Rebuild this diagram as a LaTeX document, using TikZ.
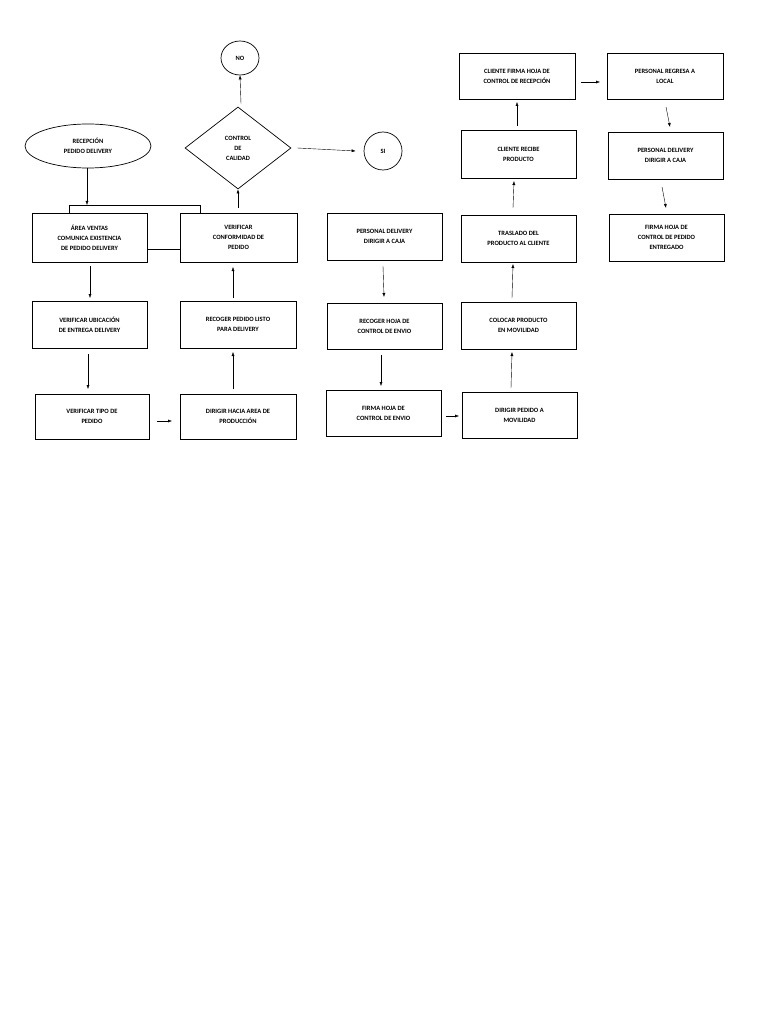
\documentclass[tikz,border=0pt]{standalone}
\usepackage{fontspec}
\setmainfont{Carlito}
\usetikzlibrary{shapes.geometric,arrows.meta}
\begin{document}
\begin{tikzpicture}[x=1pt,y=-1pt,
  every node/.style={font=\bfseries\fontsize{6.5}{10}\selectfont,align=center},
  box/.style={draw,line width=0.7pt,rectangle,inner sep=0pt},
  arr/.style={-{Latex[length=4pt,width=3pt]},line width=0.4pt},
  ln/.style={line width=0.7pt}]
\useasboundingbox (0,0) rectangle (768,1024);
\newcommand{\bx}[6]{\node[box,minimum width={#4-#2},minimum height={#5-#3}] (#1) at ({(#2+#4)/2},{(#3+#5)/2}) {#6};}
\node[draw,ellipse,ln,minimum width=126,minimum height=44,inner sep=0] (rec) at (88,146) {RECEPCIÓN\\PEDIDO DELIVERY};
\bx{area}{32}{213}{147}{262}{ÁREA VENTAS\\COMUNICA EXISTENCIA\\DE PEDIDO DELIVERY}
\bx{conf}{180}{213}{297}{262}{VERIFICAR\\CONFORMIDAD DE\\PEDIDO}
\node[draw,diamond,ln,minimum width=106,minimum height=82,inner sep=0,aspect=1.3] (cc) at (238,148) {CONTROL\\DE\\CALIDAD};
\node[draw,ellipse,ln,minimum width=38,minimum height=34,inner sep=0] (no) at (240,58) {NO};
\node[draw,ellipse,ln,minimum width=38,minimum height=38,inner sep=0] (si) at (383,151) {SI};
\bx{ubi}{32}{301}{147}{348}{VERIFICAR UBICACIÓN\\DE ENTREGA DELIVERY}
\bx{rec2}{180}{301}{296}{348}{RECOGER PEDIDO LISTO\\PARA DELIVERY}
\bx{tipo}{35}{394}{149}{439}{VERIFICAR TIPO DE\\PEDIDO}
\bx{dir}{180}{394}{296}{439}{DIRIGIR HACIA AREA DE\\PRODUCCIÓN}
\bx{pd1}{327}{213}{442}{260}{PERSONAL DELIVERY\\DIRIGIR A CAJA}
\bx{rh}{327}{303}{442}{349}{RECOGER HOJA DE\\CONTROL DE ENVIO}
\bx{fh}{326}{390}{441}{436}{FIRMA HOJA DE\\CONTROL DE ENVIO}
\bx{dpm}{462}{392}{577}{438}{DIRIGIR PEDIDO A\\MOVILIDAD}
\bx{cpm}{461}{302}{576}{349}{COLOCAR PRODUCTO\\EN MOVILIDAD}
\bx{tr}{461}{215}{576}{262}{TRASLADO DEL\\PRODUCTO AL CLIENTE}
\bx{crp}{461}{130}{576}{178}{CLIENTE RECIBE\\PRODUCTO}
\bx{cf}{459}{53}{575}{99}{CLIENTE FIRMA HOJA DE\\CONTROL DE RECEPCIÓN}
\bx{prl}{607}{53}{723}{99}{PERSONAL REGRESA A\\LOCAL}
\bx{pd2}{608}{132}{723}{179}{PERSONAL DELIVERY\\DIRIGIR A CAJA}
\bx{fhe}{609}{214}{724}{261}{FIRMA HOJA DE\\CONTROL DE PEDIDO\\ENTREGADO}
% bracket
\coordinate (b1) at (69,205); \coordinate (b2) at (200,205);
\draw[ln] (area.north -| b1) -- (b1) -- (b2) -- (conf.north -| b2);
\draw[ln] (area.east |- 0,249) -- (conf.west |- 0,249);
\draw[arr] (rec.south -| 87,0) -- (87,205);
\draw[arr] (conf.north -| 238,0) ++(0,-5) -- (cc.south);
\draw[arr] (cc.north) ++(3,-3) -- (no.south);
\draw[arr] (cc.east) ++(6,0) -- ([xshift=-8pt]si.west);
\draw[arr] (90,266) -- (90,298);
\draw[arr] (88,354) -- (88,389);
\draw[arr] (157,421) -- (172,421);
\draw[arr] (233,389) -- (233,352);
\draw[arr] (233,298) -- (233,267);
\draw[arr] (383,266) -- (384,297);
\draw[arr] (381,355) -- (381,386);
\draw[arr] (446,416) -- (459,416);
\draw[arr] (511,388) -- (512,352);
\draw[arr] (512,298) -- (513,264);
\draw[arr] (513,208) -- (514,181);
\draw[arr] (517,126) -- (517,102);
\draw[arr] (581,82) -- (600,82);
\draw[arr] (666,107) -- (670,127);
\draw[arr] (662,187) -- (666,208);
\end{tikzpicture}
\end{document}
